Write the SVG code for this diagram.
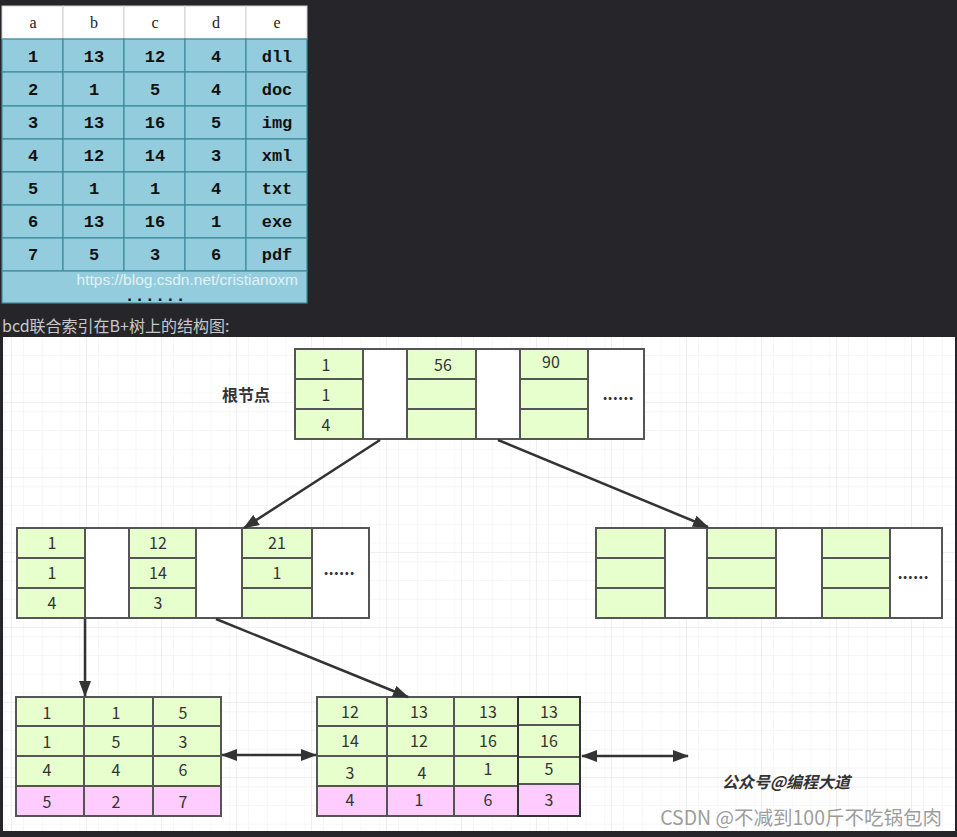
<svg xmlns="http://www.w3.org/2000/svg" width="957" height="837" viewBox="0 0 957 837">
<style>
.tb{fill:#93cddd;stroke:#3d8a9e;stroke-width:1.2}
.th{fill:#ffffff;stroke:#d0d0d0;stroke-width:1}
.tt{font-family:"Liberation Mono","DejaVu Sans Mono",monospace;font-weight:bold;font-size:17px;fill:#111;text-anchor:middle}
.thd{font-family:"Liberation Serif","DejaVu Serif",serif;font-size:16px;fill:#222;text-anchor:middle}
.g{fill:#e6ffcc;stroke:#555;stroke-width:2}
.p{fill:#ffccff;stroke:#555;stroke-width:2}
.w{fill:#ffffff;stroke:#555;stroke-width:2}
.n{font-family:"Noto Sans CJK SC","Noto Sans",sans-serif;font-size:16px;fill:#333;text-anchor:middle}
.conn{stroke:#333;stroke-width:2.5;fill:none}
</style>
<defs>
<pattern id="minor" width="18.75" height="18.75" patternUnits="userSpaceOnUse" x="12" y="28">
<path d="M18.75 0V18.75M0 18.75H18.75" stroke="#eeeeee" stroke-width="1" fill="none"/>
</pattern>
<pattern id="major" width="75" height="75" patternUnits="userSpaceOnUse" x="12" y="28">
<rect width="75" height="75" fill="url(#minor)"/>
<path d="M75 0V75M0 75H75" stroke="#dedede" stroke-width="1" fill="none"/>
</pattern>
<marker id="ah" viewBox="0 0 16 12" refX="15" refY="6" markerWidth="16" markerHeight="12" markerUnits="userSpaceOnUse" orient="auto-start-reverse">
<path d="M0 0L16 6L0 12Z" fill="#333"/>
</marker>
</defs>
<rect x="0" y="0" width="957" height="837" fill="#25252a"/>

<g id="table">
<rect class="th" x="2" y="6" width="61" height="33"/>
<rect class="th" x="63" y="6" width="61" height="33"/>
<rect class="th" x="124" y="6" width="61" height="33"/>
<rect class="th" x="185" y="6" width="61" height="33"/>
<rect class="th" x="246" y="6" width="61" height="33"/>
<text class="thd" x="33" y="28">a</text>
<text class="thd" x="94" y="28">b</text>
<text class="thd" x="155" y="28">c</text>
<text class="thd" x="216" y="28">d</text>
<text class="thd" x="277" y="28">e</text>
<g>
<rect class="tb" x="2" y="39" width="61" height="33"/><rect class="tb" x="63" y="39" width="61" height="33"/><rect class="tb" x="124" y="39" width="61" height="33"/><rect class="tb" x="185" y="39" width="61" height="33"/><rect class="tb" x="246" y="39" width="61" height="33"/>
<rect class="tb" x="2" y="72" width="61" height="34"/><rect class="tb" x="63" y="72" width="61" height="34"/><rect class="tb" x="124" y="72" width="61" height="34"/><rect class="tb" x="185" y="72" width="61" height="34"/><rect class="tb" x="246" y="72" width="61" height="34"/>
<rect class="tb" x="2" y="106" width="61" height="33"/><rect class="tb" x="63" y="106" width="61" height="33"/><rect class="tb" x="124" y="106" width="61" height="33"/><rect class="tb" x="185" y="106" width="61" height="33"/><rect class="tb" x="246" y="106" width="61" height="33"/>
<rect class="tb" x="2" y="139" width="61" height="33"/><rect class="tb" x="63" y="139" width="61" height="33"/><rect class="tb" x="124" y="139" width="61" height="33"/><rect class="tb" x="185" y="139" width="61" height="33"/><rect class="tb" x="246" y="139" width="61" height="33"/>
<rect class="tb" x="2" y="172" width="61" height="33"/><rect class="tb" x="63" y="172" width="61" height="33"/><rect class="tb" x="124" y="172" width="61" height="33"/><rect class="tb" x="185" y="172" width="61" height="33"/><rect class="tb" x="246" y="172" width="61" height="33"/>
<rect class="tb" x="2" y="205" width="61" height="33"/><rect class="tb" x="63" y="205" width="61" height="33"/><rect class="tb" x="124" y="205" width="61" height="33"/><rect class="tb" x="185" y="205" width="61" height="33"/><rect class="tb" x="246" y="205" width="61" height="33"/>
<rect class="tb" x="2" y="238" width="61" height="33"/><rect class="tb" x="63" y="238" width="61" height="33"/><rect class="tb" x="124" y="238" width="61" height="33"/><rect class="tb" x="185" y="238" width="61" height="33"/><rect class="tb" x="246" y="238" width="61" height="33"/>
<rect class="tb" x="2" y="271" width="305" height="32"/>
</g>
<g>
<text class="tt" x="33" y="62">1</text><text class="tt" x="94" y="62">13</text><text class="tt" x="155" y="62">12</text><text class="tt" x="216" y="62">4</text><text class="tt" x="277" y="62">dll</text>
<text class="tt" x="33" y="95">2</text><text class="tt" x="94" y="95">1</text><text class="tt" x="155" y="95">5</text><text class="tt" x="216" y="95">4</text><text class="tt" x="277" y="95">doc</text>
<text class="tt" x="33" y="128">3</text><text class="tt" x="94" y="128">13</text><text class="tt" x="155" y="128">16</text><text class="tt" x="216" y="128">5</text><text class="tt" x="277" y="128">img</text>
<text class="tt" x="33" y="161">4</text><text class="tt" x="94" y="161">12</text><text class="tt" x="155" y="161">14</text><text class="tt" x="216" y="161">3</text><text class="tt" x="277" y="161">xml</text>
<text class="tt" x="33" y="194">5</text><text class="tt" x="94" y="194">1</text><text class="tt" x="155" y="194">1</text><text class="tt" x="216" y="194">4</text><text class="tt" x="277" y="194">txt</text>
<text class="tt" x="33" y="227">6</text><text class="tt" x="94" y="227">13</text><text class="tt" x="155" y="227">16</text><text class="tt" x="216" y="227">1</text><text class="tt" x="277" y="227">exe</text>
<text class="tt" x="33" y="260">7</text><text class="tt" x="94" y="260">5</text><text class="tt" x="155" y="260">3</text><text class="tt" x="216" y="260">6</text><text class="tt" x="277" y="260">pdf</text>
<text class="tt" x="155" y="301" font-size="11">......</text>
<text x="298" y="285" font-family="Liberation Sans, Arial, sans-serif" font-size="15.5" fill="#ffffff" fill-opacity="0.75" text-anchor="end">https://blog.csdn.net/cristianoxm</text>
</g>
</g>

<text id="caption" x="2" y="332" font-family="Noto Sans CJK SC, Noto Sans, sans-serif" font-size="16" fill="#c8c8c8">bcd联合索引在B+树上的结构图:</text>

<rect x="3" y="337" width="952" height="494" fill="#ffffff"/>
<rect x="3" y="337" width="952" height="494" fill="url(#major)"/>

<g id="root-label"><text x="246" y="401" font-family="Noto Sans CJK SC, sans-serif" font-size="16" font-weight="bold" fill="#333" text-anchor="middle">根节点</text></g>

<g id="root">
<rect class="g" x="295" y="349" width="68" height="30"/><rect class="g" x="295" y="379" width="68" height="30"/><rect class="g" x="295" y="409" width="68" height="30"/>
<rect class="w" x="363" y="349" width="44" height="90"/>
<rect class="g" x="407" y="349" width="69" height="30"/><rect class="g" x="407" y="379" width="69" height="30"/><rect class="g" x="407" y="409" width="69" height="30"/>
<rect class="w" x="476" y="349" width="44" height="90"/>
<rect class="g" x="520" y="349" width="68" height="30"/><rect class="g" x="520" y="379" width="68" height="30"/><rect class="g" x="520" y="409" width="68" height="30"/>
<rect class="w" x="588" y="349" width="56" height="90"/>
<text class="n" x="326" y="371">1</text><text class="n" x="443" y="371">56</text><text class="n" x="551" y="368">90</text>
<text class="n" x="326" y="401">1</text><text class="n" x="326" y="431">4</text>
<text class="n" x="618" y="400" font-weight="bold">......</text>
</g>

<g id="left-child">
<rect class="g" x="17" y="528" width="68" height="30"/><rect class="g" x="17" y="558" width="68" height="30"/><rect class="g" x="17" y="588" width="68" height="30"/>
<rect class="w" x="85" y="528" width="44" height="90"/>
<rect class="g" x="129" y="528" width="67" height="30"/><rect class="g" x="129" y="558" width="67" height="30"/><rect class="g" x="129" y="588" width="67" height="30"/>
<rect class="w" x="196" y="528" width="46" height="90"/>
<rect class="g" x="242" y="528" width="70" height="30"/><rect class="g" x="242" y="558" width="70" height="30"/><rect class="g" x="242" y="588" width="70" height="30"/>
<rect class="w" x="312" y="528" width="57" height="90"/>
<text class="n" x="52" y="549">1</text><text class="n" x="158" y="549">12</text><text class="n" x="277" y="549">21</text>
<text class="n" x="52" y="579">1</text><text class="n" x="158" y="579">14</text><text class="n" x="277" y="579">1</text>
<text class="n" x="52" y="609">4</text><text class="n" x="158" y="609">3</text>
<text class="n" x="339" y="575" font-weight="bold">......</text>
</g>

<g id="right-child">
<rect class="g" x="596" y="528" width="69" height="30"/><rect class="g" x="596" y="558" width="69" height="30"/><rect class="g" x="596" y="588" width="69" height="30"/>
<rect class="w" x="665" y="528" width="42" height="90"/>
<rect class="g" x="707" y="528" width="69" height="30"/><rect class="g" x="707" y="558" width="69" height="30"/><rect class="g" x="707" y="588" width="69" height="30"/>
<rect class="w" x="776" y="528" width="46" height="90"/>
<rect class="g" x="822" y="528" width="68" height="30"/><rect class="g" x="822" y="558" width="68" height="30"/><rect class="g" x="822" y="588" width="68" height="30"/>
<rect class="w" x="890" y="528" width="52" height="90"/>
<text class="n" x="913" y="579" font-weight="bold">......</text>
</g>

<g id="leaf-left">
<rect class="g" x="16" y="697" width="68" height="29"/><rect class="g" x="84" y="697" width="69" height="29"/><rect class="g" x="153" y="697" width="68" height="29"/>
<rect class="g" x="16" y="726" width="68" height="30"/><rect class="g" x="84" y="726" width="69" height="30"/><rect class="g" x="153" y="726" width="68" height="30"/>
<rect class="g" x="16" y="756" width="68" height="30"/><rect class="g" x="84" y="756" width="69" height="30"/><rect class="g" x="153" y="756" width="68" height="30"/>
<rect class="p" x="16" y="786" width="68" height="30"/><rect class="p" x="84" y="786" width="69" height="30"/><rect class="p" x="153" y="786" width="68" height="30"/>
<text class="n" x="47" y="719">1</text><text class="n" x="116" y="719">1</text><text class="n" x="183" y="719">5</text>
<text class="n" x="47" y="748">1</text><text class="n" x="116" y="748">5</text><text class="n" x="183" y="748">3</text>
<text class="n" x="47" y="776">4</text><text class="n" x="116" y="776">4</text><text class="n" x="183" y="776">6</text>
<text class="n" x="47" y="808">5</text><text class="n" x="116" y="808">2</text><text class="n" x="183" y="808">7</text>
</g>

<g id="leaf-mid">
<rect class="g" x="317" y="697" width="70" height="29"/><rect class="g" x="387" y="697" width="67" height="29"/><rect class="g" x="454" y="697" width="64" height="29"/><rect class="g" x="518" y="697" width="62" height="28"/>
<rect class="g" x="317" y="726" width="70" height="30"/><rect class="g" x="387" y="726" width="67" height="30"/><rect class="g" x="454" y="726" width="64" height="30"/><rect class="g" x="518" y="725" width="62" height="32"/>
<rect class="g" x="317" y="756" width="70" height="30"/><rect class="g" x="387" y="756" width="67" height="30"/><rect class="g" x="454" y="756" width="64" height="30"/><rect class="g" x="518" y="757" width="62" height="27"/>
<rect class="p" x="317" y="786" width="70" height="30"/><rect class="p" x="387" y="786" width="67" height="30"/><rect class="p" x="454" y="786" width="64" height="30"/><rect class="p" x="518" y="784" width="62" height="32"/>
<rect x="518" y="697" width="62" height="119" fill="none" stroke="#333" stroke-width="2"/>
<text class="n" x="350" y="718">12</text><text class="n" x="419" y="718">13</text><text class="n" x="488" y="718">13</text><text class="n" x="549" y="718">13</text>
<text class="n" x="350" y="747">14</text><text class="n" x="419" y="747">12</text><text class="n" x="488" y="747">16</text><text class="n" x="549" y="747">16</text>
<text class="n" x="350" y="779">3</text><text class="n" x="422" y="779">4</text><text class="n" x="488" y="775">1</text><text class="n" x="549" y="775">5</text>
<text class="n" x="350" y="806">4</text><text class="n" x="419" y="806">1</text><text class="n" x="488" y="806">6</text><text class="n" x="549" y="806">3</text>
</g>

<g id="connectors">
<line class="conn" x1="380" y1="440" x2="244" y2="528" marker-end="url(#ah)"/>
<line class="conn" x1="498" y1="440" x2="708" y2="527" marker-end="url(#ah)"/>
<line class="conn" x1="85" y1="619" x2="85" y2="696" marker-end="url(#ah)"/>
<line class="conn" x1="216" y1="619" x2="408" y2="697" marker-end="url(#ah)"/>
<line class="conn" x1="222" y1="755" x2="316" y2="755" marker-start="url(#ah)" marker-end="url(#ah)"/>
<line class="conn" x1="582" y1="756" x2="688" y2="756" marker-start="url(#ah)" marker-end="url(#ah)"/>
</g>

<g id="labels">
<text x="786" y="788" font-family="Noto Sans CJK SC, sans-serif" font-size="16" font-weight="bold" font-style="italic" fill="#333" text-anchor="middle">公众号@编程大道</text>
<text x="942" y="825" font-family="Noto Sans CJK SC, sans-serif" font-size="19.5" fill="#8a8a8a" fill-opacity="0.85" text-anchor="end">CSDN @不减到100斤不吃锅包肉</text>
</g>
</svg>
